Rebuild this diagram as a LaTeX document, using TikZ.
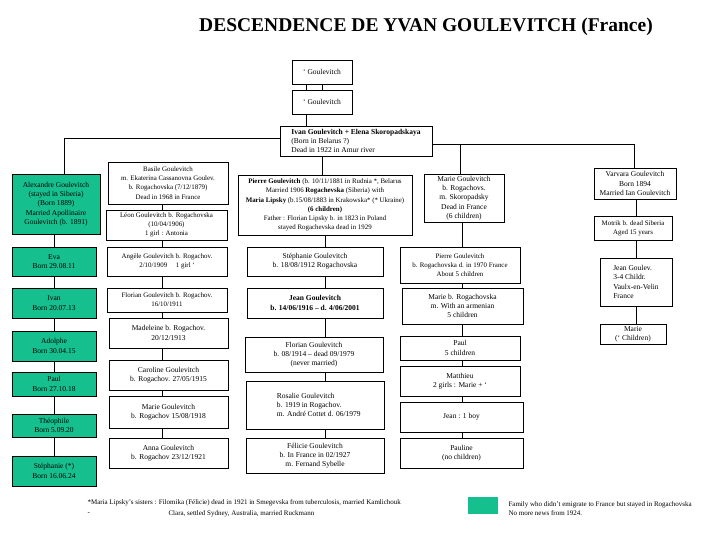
\documentclass[tikz,border=0pt]{standalone}
\usepackage{fontspec}
\setmainfont{Liberation Serif}
\definecolor{grn}{RGB}{22,192,142}
\tikzset{
 box/.style={draw,thick,fill=white,inner sep=0pt,align=center,font=\fontsize{7.5}{9.2}\selectfont},
 gbox/.style={box,fill=grn},
 lbox/.style={box,align=left},
 sbox/.style={box,font=\fontsize{6.9}{9.2}\selectfont},
 conn/.style={thick}
}
\newcommand\B[7][box]{\node[#1,minimum width={(#5-#3)*1pt},minimum height={(#6-#4)*1pt}] (#2) at ({(#3+#5)/2},{(#4+#6)/2}) {#7};}
\begin{document}
\begin{tikzpicture}[x=1pt,y=-1pt]
\useasboundingbox (0,0) rectangle (720,540);
\node[font=\fontsize{19.5}{22}\selectfont\bfseries] (title) at (426,27) {DESCENDENCE DE YVAN GOULEVITCH (France)};
\coordinate (hl) at (64,138); \coordinate (hr) at (634,144);
\coordinate (hm2) at (460,144);
\draw[conn] (306,84)--(306,126);
\draw[conn] (hl)--(280,138); \draw[conn] (hl)--(64,174);
\draw[conn] (432,144)--(hr)--(634,168);
\draw[conn] (322,156)--(322,175);
\draw[conn] (hm2)--(460,174);
\draw[conn] (54,234)--(54,486);
\draw[conn] (162,204)--(162,468);
\draw[conn] (325,235)--(325,438);
\draw[conn] (462,222)--(462,468);
\draw[conn] (636,199)--(636,344);
\B{a1}{292}{60}{352}{84}{` Goulevitch}
\B{a2}{292}{90}{352}{114}{` Goulevitch}
\draw[conn] (a1)--(a2);
\B[lbox]{ivan}{280}{126}{432}{156}{\textbf{Ivan Goulevitch + Elena Skoropadskaya}\\(Born in Belarus ?)\\Dead in 1922 in Amur river}
\B[gbox]{alex}{12}{174}{100}{234}{Alexandre Goulevitch\\(stayed in Siberia)\\(Born 1889)\\Married Apollinaire\\Goulevitch (b. 1891)}
\B[sbox]{basile}{108}{162}{228}{204}{Basile Goulevitch\\m. Ekaterina Cassanovna Goulev.\\b. Rogachovska (7/12/1879)\\Dead in 1968 in France}
\B[sbox]{leon}{106}{210}{227}{240}{Léon Goulevitch b. Rogachovska\\(10/04/1906)\\1 girl : Antonia}
\B[sbox]{pierre}{238}{175}{412}{235}{\textbf{Pierre Goulevitch} (b. 10/11/1881 in Rudnia *, Belarus\\Married 1906 \textbf{Rogachevska} (Siberia) with\\\textbf{Maria Lipsky} (b.15/08/1883 in Krakowska* (* Ukraine)\\\textbf{(6 children)}\\Father : Florian Lipsky b. in 1823 in Poland\\stayed Rogachevska dead in 1929}
\B{marie}{424}{174}{504}{222}{Marie Goulevitch\\b. Rogachovs.\\m. Skoropadsky\\Dead in France\\(6 children)}
\B{varvara}{594}{168}{676}{199}{Varvara Goulevitch\\Born 1894\\Married Ian Goulevitch}
\B[sbox]{motrik}{594}{216}{672}{240}{Motrik b. dead Siberia\\Aged 15 years}
\B[gbox]{eva}{12}{247}{96}{276}{Eva\\Born 29.08.11}
\B[gbox]{ivan2}{12}{288}{96}{318}{Ivan\\Born 20.07.13}
\B[gbox]{adol}{12}{331}{96}{361}{Adolphe\\Born 30.04.15}
\B[gbox]{paul}{12}{372}{96}{396}{Paul\\Born 27.10.18}
\B[gbox]{theo}{12}{414}{96}{437}{Théophile\\Born 5.09.20}
\B[gbox]{steph}{12}{456}{96}{486}{Stéphanie (*)\\Born 16.06.24}
\B[sbox]{ang}{107}{247}{227}{276}{Angèle Goulevitch b. Rogachov.\\2/10/1909\quad\ 1 girl `}
\B[sbox]{flo}{107}{288}{227}{312}{Florian Goulevitch b. Rogachov.\\16/10/1911}
\B{mad}{109}{318}{228}{348}{Madeleine b. Rogachov.\\20/12/1913}
\B{car}{109}{360}{228}{390}{Caroline Goulevitch\\b. Rogachov. 27/05/1915}
\B{mar2}{109}{396}{228}{428}{Marie Goulevitch\\b. Rogachov 15/08/1918}
\B{anna}{109}{438}{228}{468}{Anna Goulevitch\\b. Rogachov 23/12/1921}
\B{stp}{247}{247}{383}{276}{Stéphanie Goulevitch\\b. 18/08/1912 Rogachovska}
\B{jean}{247}{288}{383}{318}{\textbf{Jean Goulevitch}\\\textbf{b. 14/06/1916 -- d. 4/06/2001}}
\B{flg}{245}{337}{383}{372}{Florian Goulevitch\\b. 08/1914 -- dead 09/1979\\(never married)}
\B[lbox]{ros}{246}{381}{384}{429}{\quad Rosalie Goulevitch\\\quad b. 1919 in Rogachov.\\\quad m. André Cottet d. 06/1979}
\B{fel}{246}{438}{384}{473}{Félicie Goulevitch\\b. In France in 02/1927\\m. Fernand Sybelle}
\B[sbox]{pg}{400}{247}{520}{283}{Pierre Goulevitch\\b. Rogachovska d. in 1970 France\\About 5 children}
\B{mb}{402}{288}{523}{324}{Marie b. Rogachovska\\m. With an armenian\\5 children}
\B{pl}{400}{336}{520}{360}{Paul\\5 children}
\B{mat}{400}{366}{520}{396}{Matthieu\\2 girls : Marie + `}
\B{jn}{400}{402}{523}{432}{Jean : 1 boy}
\B{pau}{400}{438}{523}{468}{Pauline\\(no children)}
\B[lbox]{jg}{600}{258}{672}{306}{Jean Goulev.\\3-4 Childr.\\Vaulx-en-Velin\\France}
\B{mr}{600}{324}{666}{344}{Marie\\(` Children)}
\node[anchor=west,font=\fontsize{7}{9}\selectfont] (fn1) at (84,503) {*Maria Lipsky's sisters : Filomika (Félicie) dead in 1921 in Smegevska from tuberculosis, married Kamlichouk};
\node[anchor=west,font=\fontsize{7}{9}\selectfont] (fn2) at (84,514) {-};
\node[anchor=west,font=\fontsize{7}{9}\selectfont] (fn3) at (165,514) {Clara, settled Sydney, Australia, married Ruckmann};
\node[fill=grn,minimum width=30pt,minimum height=17pt,inner sep=0pt] (leg) at (483,505.5) {};
\node[anchor=west,align=left,font=\fontsize{7}{9}\selectfont] (legt) at (505,509) {Family who didn't emigrate to France but stayed in Rogachovska\\No more news from 1924.};
\end{tikzpicture}
\end{document}
